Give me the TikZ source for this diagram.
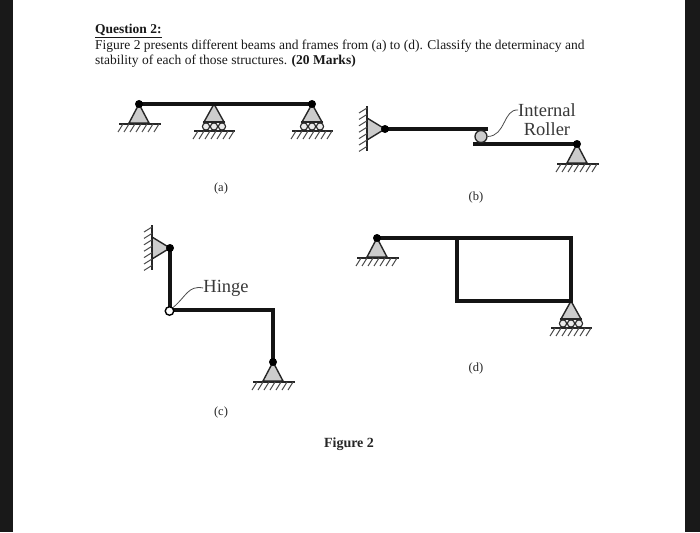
\documentclass[tikz,border=0pt]{standalone}
\usepackage{fontspec}
\setmainfont{Liberation Serif}
\tikzset{
  beam/.style={line width=4.4pt,black!92,line join=miter},
  outl/.style={line width=1.4pt,black!85},
  sfill/.style={outl,fill=black!20},
  gnd/.style={line width=1.3pt,black!85},
  hat/.style={line width=1pt,black!70},
  lead/.style={line width=0.8pt,black!70},
  pinj/.style={circle,fill=black,inner sep=0pt,minimum size=8pt},
  hingej/.style={circle,draw=black,line width=1.4pt,fill=white,inner sep=0pt,minimum size=8.5pt},
  rollj/.style={circle,draw=black!85,line width=1.3pt,fill=black!20,inner sep=0pt,minimum size=12pt},
  body/.style={font=\fontsize{13.5}{15}\selectfont,anchor=base west,inner sep=0pt,text=black!90},
  captext/.style={font=\fontsize{12.5}{14}\selectfont,inner sep=0pt,text=black!85},
  lab/.style={font=\fontsize{18.5}{20}\selectfont,inner sep=0pt,text=black!78},
  pinsup/.pic={
    \draw[sfill] (0,0) -- (-10,19) -- (10,19) -- cycle;
    \draw[gnd] (-20,20) -- (22,20);
    \foreach \i in {0,...,6} \draw[hat] (-16+6*\i,20) -- ++(-5,8);
  },
  rollsup/.pic={
    \draw[sfill] (0,0) -- (-10,18) -- (10,18) -- cycle;
    \draw[outl] (-11,18) -- (11,18);
    \foreach \i in {-8,0,8} \draw[line width=1.1pt,black!85,fill=black!8] (\i,22.5) circle (3.6);
    \draw[gnd] (-20,27) -- (21,27);
    \foreach \i in {0,...,6} \draw[hat] (-16+6*\i,27) -- ++(-5,8);
  },
  wallsup/.pic={
    \draw[sfill] (0,0) -- (-18,-11) -- (-18,11) -- cycle;
    \draw[gnd] (-18,-23) -- (-18,22);
    \foreach \i in {0,...,6} \draw[hat] (-18,-21+6.4*\i) -- ++(-8,5);
  }
}
\begin{document}
\begin{tikzpicture}[x=1pt,y=-1pt]
\useasboundingbox (0,0) rectangle (700,532);
\fill[white] (0,0) rectangle (700,532);
\fill[black!90] (0,0) rectangle (13,532);
\fill[black!90] (685,0) rectangle (700,532);

% text
\node[body] (q) at (95,34) {\textbf{\underline{Question 2:}}};
\node[body] (l1) at (95,49.5) {Figure 2 presents different beams and frames from (a) to (d). Classify the determinacy and};
\node[body] (l2) at (95,64.5) {stability of each of those structures. \textbf{(20 Marks)}};

% (a)
\coordinate (a1) at (139,104);
\coordinate (a2) at (214,104);
\coordinate (a3) at (312,104);
\pic at (a1) {pinsup};
\pic at (a2) {rollsup};
\pic at (a3) {rollsup};
\draw[beam] (a1) -- (a3);
\node[pinj] (a1j) at (a1) {};
\node[pinj] (a3j) at (a3) {};
\node[captext] (capa) at (221,188) {(a)};

% (b)
\coordinate (b1) at (385,129);
\coordinate (b2) at (488,129);
\coordinate (b3) at (473,144);
\coordinate (b4) at (577,144);
\pic at (b1) {wallsup};
\pic at (b4) {pinsup};
\draw[beam] (b1) -- (b2);
\draw[beam] (b3) -- (b4);
\node[rollj] (br) at (481,136.5) {};
\node[pinj] (b1j) at (b1) {};
\node[pinj] (b4j) at (b4) {};
\node[lab] (int) at (547,110) {Internal};
\node[lab] (rol) at (547,129) {Roller};
\draw[lead] (int.west) .. controls (503,109) and (506,136) .. (br.east);
\node[captext] (capb) at (476,197) {(b)};

% (c)
\coordinate (c1) at (170,248);
\coordinate (c2) at (169.5,311);
\coordinate (c3) at (273,310);
\coordinate (c4) at (273,362);
\pic at (c1) {wallsup};
\pic at (c4) {pinsup};
\draw[beam] (c1) -- (c1|-c2);
\draw[beam] (c2|-c3) -- (c3) -- (c4);
\node[pinj] (c1j) at (c1) {};
\node[pinj] (c4j) at (c4) {};
\node[hingej] (ch) at (c2) {};
\node[lab] (hin) at (226,288) {Hinge};
\draw[lead] (hin.west) .. controls (188,285) and (186,297) .. (ch.north east);
\node[captext] (capc) at (221,412) {(c)};

% (d)
\coordinate (d1) at (377,238);
\coordinate (d2) at (571,238);
\coordinate (d3) at (571,301);
\coordinate (d4) at (457,301);
\coordinate (d5) at (457,238);
\pic at (d1) {pinsup};
\pic at (d3) {rollsup};
\draw[beam] (d1) -- (d2) -- (d3) -- (d4) -- (d5);
\node[pinj] (d1j) at (d1) {};
\node[captext] (capd) at (476,368) {(d)};

\node[captext,font=\bfseries\fontsize{14}{16}\selectfont] (fig) at (349,444) {Figure 2};
\end{tikzpicture}
\end{document}
